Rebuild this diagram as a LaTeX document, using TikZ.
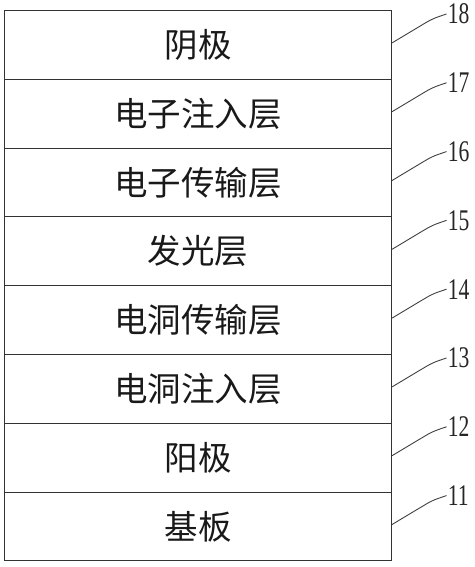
\documentclass[tikz,border=0pt]{standalone}
\usepackage{fontspec}
\setmainfont{Liberation Serif}
\newfontfamily\cjk{Noto Sans CJK SC}
\newfontfamily\numfont[FakeStretch=0.72]{Liberation Serif}
\usetikzlibrary{calc}
\begin{document}
\begin{tikzpicture}[x=1pt,y=-1pt,
  layer/.style={draw=black!80, line width=1.1pt, minimum width=387pt, minimum height=68.8pt,
    inner sep=0pt, font=\cjk\fontsize{33.5}{33.5}\selectfont, text=black!90},
  num/.style={font=\numfont\fontsize{30}{30}\selectfont, anchor=west, inner sep=0pt, text=black!85},
  lead/.style={draw=black!75, line width=0.9pt, rounded corners=6pt}]
\useasboundingbox (0,0) rectangle (474,567);
\node[layer] (b18) at (198,44.9)  {\raisebox{-2.5pt}{阴极}};
\node[layer] (b17) at (198,113.7) {\raisebox{-2.5pt}{电子注入层}};
\node[layer] (b16) at (198,182.5) {\raisebox{-2.5pt}{电子传输层}};
\node[layer] (b15) at (198,251.3) {\raisebox{-2.5pt}{发光层}};
\node[layer] (b14) at (198,320.1) {\raisebox{-2.5pt}{电洞传输层}};
\node[layer] (b13) at (198,388.9) {\raisebox{-2.5pt}{电洞注入层}};
\node[layer] (b12) at (198,457.7) {\raisebox{-2.5pt}{阳极}};
\node[layer] (b11) at (198,526.5) {\raisebox{-2.5pt}{基板}};
\foreach \k in {18,17,16,15,14,13,12,11}{
  \node[num] (n\k) at ($(b\k.north east)+(55.5,4)$) {\k};
  \coordinate (s\k) at ($(b\k.east)+(0,-2)$);
  \coordinate (m\k) at ($(b\k.north east)+(40,9)$);
  \draw[lead] (s\k) -- (m\k) -- ($(n\k.west)+(-1,0)$);
}
\end{tikzpicture}
\end{document}
